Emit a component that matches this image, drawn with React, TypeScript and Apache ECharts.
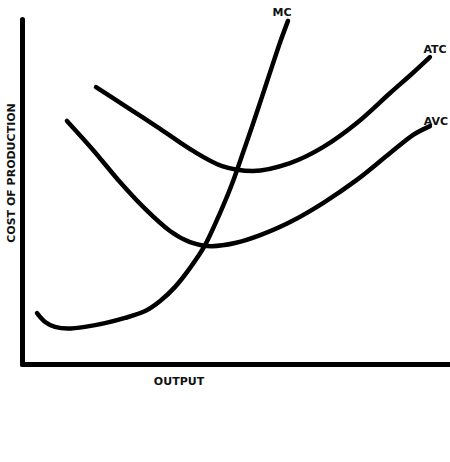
import React, { useEffect, useRef } from "react";
import * as echarts from "echarts";

// Output (x) and cost (y) readings, both on a 0–100 scale
const mcOutput = [3.4, 5.3, 7.6, 10.6, 14.6, 19.3, 24.0, 28.7, 32.2, 35.7, 39.2, 42.7, 46.2, 49.0, 51.8, 53.9, 56.0, 58.1, 60.2, 62.1];
const mcCost = [14.9, 12.3, 10.9, 10.4, 10.9, 12.0, 13.5, 15.5, 18.4, 22.5, 28.0, 34.6, 43.9, 52.3, 62.2, 69.7, 77.5, 85.4, 93.2, 99.6];

const atcOutput = [17.2, 24.4, 32.2, 39.9, 46.7, 53.9, 62.6, 70.3, 78.2, 86.0, 91.3, 95.3];
const atcCost = [80.4, 74.6, 68.3, 61.9, 57.5, 56.1, 58.4, 63.0, 70.0, 78.7, 84.5, 89.1];

const avcOutput = [10.4, 16.5, 22.8, 28.7, 34.5, 39.2, 44.3, 49.7, 55.6, 62.6, 70.3, 78.2, 86.0, 91.3, 95.3];
const avcCost = [70.6, 62.2, 52.9, 45.1, 38.7, 35.5, 34.3, 35.2, 37.5, 41.3, 46.8, 53.5, 61.3, 66.5, 69.1];

const curveNames = ["MC", "ATC", "AVC"];
const xTitle = "OUTPUT";
const yTitle = "COST OF PRODUCTION";

const zip = (xs: number[], ys: number[]) => xs.map((x, i) => [x, ys[i]]);

export default function App() {
  const ref = useRef<HTMLDivElement>(null);

  useEffect(() => {
    if (!ref.current) return;
    const chart = echarts.init(ref.current, undefined, { renderer: "svg" });
    const font = {
      fontFamily: "DejaVu Sans",
      fontWeight: "bold" as const,
      fontSize: 11,
    };
    const lineSeries = (name: string, data: number[][]) => ({
      name,
      type: "line" as const,
      data,
      smooth: 0.3,
      showSymbol: false,
      symbol: "none",
      lineStyle: { color: "#000", width: 4.5, cap: "round" as const, join: "round" as const },
      silent: true,
    });
    const axisBase = {
      type: "value" as const,
      min: 0,
      max: 100,
      axisTick: { show: false },
      axisLabel: { show: false },
      splitLine: { show: false },
    };
    chart.setOption({
      animation: false,
      backgroundColor: "#fff",
      grid: { left: 22.5, right: 0, top: 19.5, bottom: 97.5 },
      xAxis: {
        ...axisBase,
        axisLine: { show: true, lineStyle: { color: "#000", width: 5 } },
      },
      yAxis: {
        ...axisBase,
        axisLine: { show: true, lineStyle: { color: "#000", width: 5, cap: "round" } },
      },
      series: [
        lineSeries(curveNames[0], zip(mcOutput, mcCost)),
        lineSeries(curveNames[1], zip(atcOutput, atcCost)),
        lineSeries(curveNames[2], zip(avcOutput, avcCost)),
      ],
      graphic: [
        {
          type: "text",
          x: 282,
          y: 12,
          style: { text: curveNames[0], ...font, fill: "#111", align: "center", verticalAlign: "middle" },
        },
        {
          type: "text",
          x: 435,
          y: 49,
          style: { text: curveNames[1], ...font, fill: "#111", align: "center", verticalAlign: "middle" },
        },
        {
          type: "text",
          x: 436,
          y: 121,
          style: { text: curveNames[2], ...font, fill: "#111", align: "center", verticalAlign: "middle" },
        },
        {
          type: "text",
          x: 179,
          y: 381,
          style: { text: xTitle, ...font, fill: "#111", align: "center", verticalAlign: "middle" },
        },
        {
          type: "text",
          x: 11,
          y: 173,
          rotation: Math.PI / 2,
          style: { text: yTitle, ...font, fill: "#111", align: "center", verticalAlign: "middle" },
        },
      ],
    });
    return () => chart.dispose();
  }, []);

  return (
    <div
      ref={ref}
      style={{ position: "absolute", left: 0, top: 0, width: 450, height: 462, background: "#fff" }}
    />
  );
}
